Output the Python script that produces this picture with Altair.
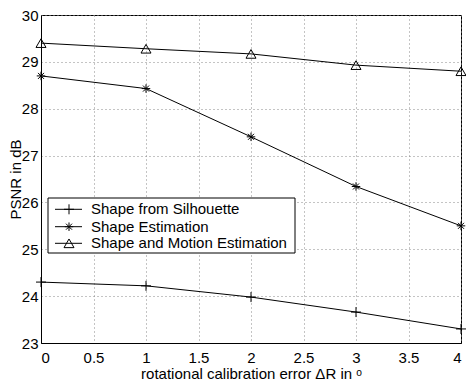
import altair as alt
import pandas as pd

# ---- data ----
x_vals = [0, 1, 2, 3, 4]
series_names = ["Shape from Silhouette", "Shape Estimation", "Shape and Motion Estimation"]
silhouette = [24.30, 24.22, 23.98, 23.66, 23.30]
shape_est = [28.70, 28.43, 27.40, 26.34, 25.50]
shape_motion = [29.40, 29.28, 29.17, 28.93, 28.80]
x_ticks = [0, 0.5, 1, 1.5, 2, 2.5, 3, 3.5, 4]
y_ticks = [23, 24, 25, 26, 27, 28, 29, 30]

plus_path = "M-1,0L1,0M0,-1L0,1"
star_path = "M-0.85,0L0.85,0M0,-0.85L0,0.85M-0.6,-0.6L0.6,0.6M-0.6,0.6L0.6,-0.6"
shapes = [plus_path, star_path, "triangle-up"]

rows = []
for name, vals in zip(series_names, [silhouette, shape_est, shape_motion]):
    for x, y in zip(x_vals, vals):
        rows.append({"series": name, "x": x, "y": y})
df = pd.DataFrame(rows)

FONT = "Liberation Sans"
W, H = 420, 328

xs = alt.Scale(domain=[0, 4], nice=False, zero=False)
ys = alt.Scale(domain=[23, 30], nice=False, zero=False)
shape_scale = alt.Scale(domain=series_names, range=shapes)

x_enc = alt.X("x:Q", scale=xs,
              axis=alt.Axis(values=x_ticks, title="rotational calibration error ΔR in ᵒ",
                            grid=True, ticks=False, labelPadding=7,
                            titleY=35, titleBaseline="alphabetic",
                            format="~g"))
y_enc = alt.Y("y:Q", scale=ys,
              axis=alt.Axis(values=y_ticks, title="PSNR in dB", grid=True, ticks=False,
                            labelPadding=3, titleX=-21, titleY=H / 2,
                            titleBaseline="alphabetic", titleAngle=-90))

lines = alt.Chart(df).mark_line(color="black", strokeWidth=1).encode(
    x=x_enc, y=y_enc, detail="series:N"
)
points = alt.Chart(df).mark_point(filled=False, color="black", strokeWidth=1, size=100, opacity=1).encode(
    x=alt.X("x:Q", scale=xs),
    y=alt.Y("y:Q", scale=ys),
    shape=alt.Shape("series:N", scale=shape_scale, legend=None),
)

# ---- manual legend (layout positions in pixels) ----
leg = pd.DataFrame({"series": series_names, "py": [194.3, 211.7, 228.3]})
leg_box = alt.Chart(pd.DataFrame({"a": [0]})).mark_rect(
    fill="white", stroke="black", strokeWidth=1
).encode(x=alt.value(7), x2=alt.value(254), y=alt.value(183), y2=alt.value(238))
leg_lines = alt.Chart(leg).mark_rule(color="black", strokeWidth=1).encode(
    x=alt.value(14), x2=alt.value(41), y=alt.Y("py:Q", scale=None)
)
leg_pts = alt.Chart(leg).mark_point(filled=False, color="black", strokeWidth=1, size=100, opacity=1).encode(
    x=alt.value(28), y=alt.Y("py:Q", scale=None),
    shape=alt.Shape("series:N", scale=shape_scale, legend=None),
)
leg_text = alt.Chart(leg).mark_text(align="left", baseline="middle", font=FONT,
                                    fontSize=15, color="black").encode(
    x=alt.value(50), y=alt.Y("py:Q", scale=None), text="series:N"
)

chart = alt.layer(lines, points, leg_box, leg_lines, leg_pts, leg_text).properties(
    width=W, height=H,
    autosize=alt.AutoSizeParams(type="none"),
    padding={"left": 33, "top": 7, "right": 5, "bottom": 37},
).configure_view(
    stroke="black", strokeWidth=1
).configure_axis(
    labelFont=FONT, labelFontSize=15, labelColor="black",
    titleFont=FONT, titleFontSize=15, titleColor="black", titleFontWeight="normal",
    domainColor="black", domainWidth=1,
    gridColor="#888888", gridDash=[1, 3], gridWidth=1, gridOpacity=1,
)

chart.save("out.html", embed_options={"renderer": "svg", "actions": False})
